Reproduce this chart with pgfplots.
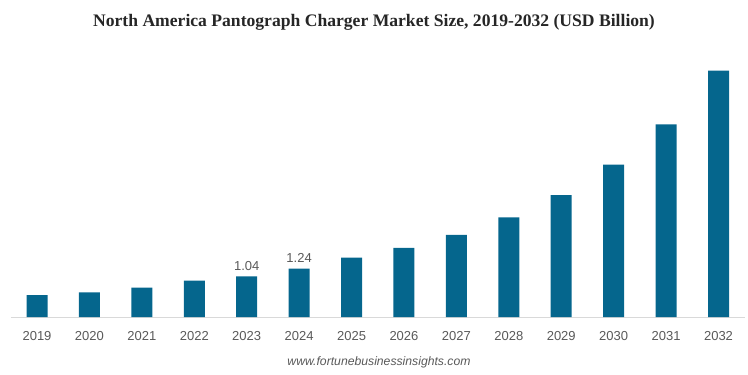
\documentclass[border=0pt]{standalone}
\usepackage{pgfplots}
\pgfplotsset{compat=1.18}
\usepackage{fontspec}
\setmainfont{Liberation Sans}
\newfontfamily\titlefont{Liberation Serif}
\definecolor{barblue}{HTML}{05668D}
\definecolor{txtgray}{HTML}{595959}
\definecolor{axgray}{HTML}{D9D9D9}
\begin{document}
\begin{tikzpicture}[x=1bp,y=1bp]
\path (0,0) rectangle (748,374);
\begin{axis}[
  at={(10.8bp,57bp)}, anchor=south west,
  scale only axis,
  width=733.9bp, height=273.4bp,
  xmin=-0.5, xmax=13.5, ymin=0, ymax=7,
  axis x line*=bottom, axis y line=none,
  x axis line style={draw=axgray, line width=1bp, -},
  xtick={0,...,13},
  xticklabels={2019,2020,2021,2022,2023,2024,2025,2026,2027,2028,2029,2030,2031,2032},
  major tick length=0pt,
  xticklabel style={font=\fontsize{13bp}{15bp}\selectfont, text=txtgray, anchor=base, yshift=-23.7bp},
  ytick=\empty,
  ybar, bar width=21bp, bar shift=0pt,
  clip=false,
]
\addplot[fill=barblue, draw=none] coordinates {
(0,0.56) (1,0.63) (2,0.75) (3,0.93) (4,1.04) (5,1.24) (6,1.52)
(7,1.77) (8,2.10) (9,2.55) (10,3.12) (11,3.90) (12,4.93) (13,6.31)};
\addplot[fill=none, draw=none,
  nodes near coords,
  nodes near coords style={font=\fontsize{13bp}{15bp}\selectfont, text=txtgray,
    anchor=base, yshift=5.6bp,
    /pgf/number format/assume math mode=true,
    /pgf/number format/fixed, /pgf/number format/fixed zerofill, /pgf/number format/precision=2}
] coordinates {(4,1.04) (5,1.24)};
\end{axis}
\node[anchor=base, font=\titlefont\bfseries\fontsize{17.6bp}{20bp}\selectfont, text=black!85] at (374,347.3) {North America Pantograph Charger Market Size, 2019-2032 (USD Billion)};
\node[anchor=base, font=\itshape\fontsize{12.2bp}{14bp}\selectfont, text=txtgray] at (379,8.3) {www.fortunebusinessinsights.com};
\end{tikzpicture}
\end{document}
